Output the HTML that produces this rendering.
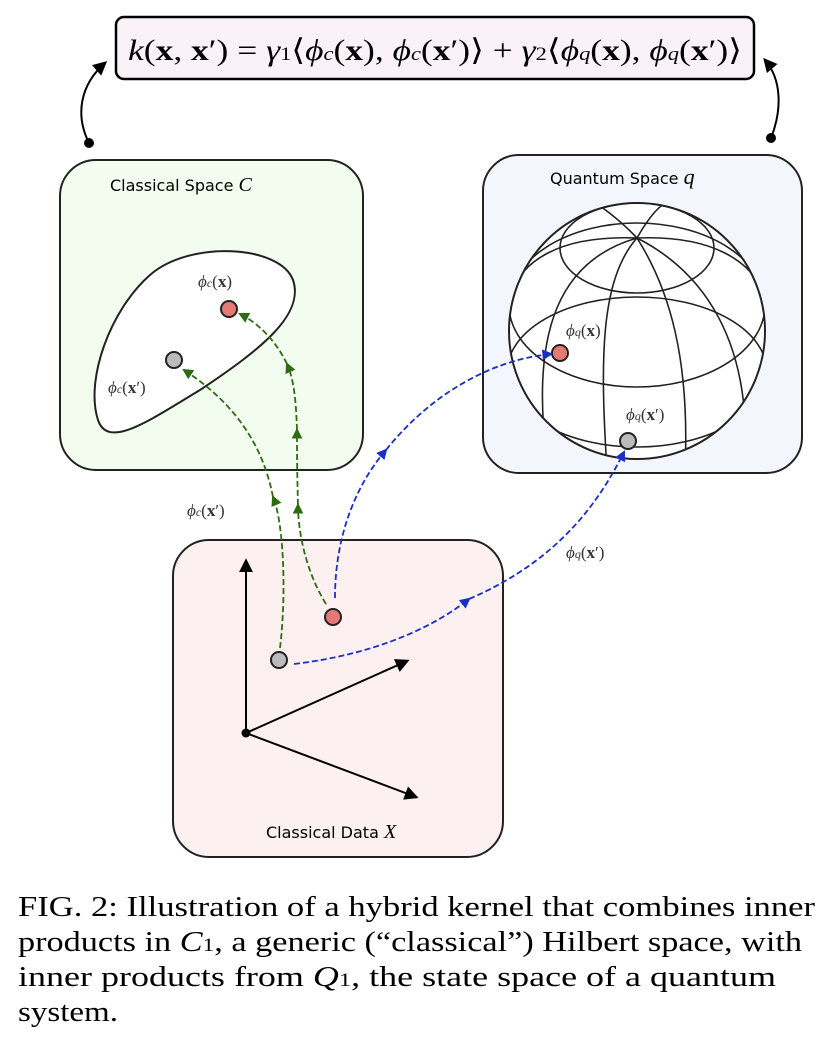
<!DOCTYPE html>
<html><head><style>
html,body{margin:0;padding:0;background:#fff;}
svg{display:block;}
.s{font-family:"DejaVu Sans","Liberation Sans",sans-serif;}
</style></head><body>
<svg width="834" height="1044" viewBox="0 0 834 1044" xmlns="http://www.w3.org/2000/svg">
<defs>
<marker id="ak" viewBox="0 0 10 10" refX="8" refY="5" markerWidth="7" markerHeight="7" orient="auto-start-reverse"><path d="M0,0 L10,5 L0,10 z" fill="#000"/></marker>
<marker id="ag" viewBox="0 0 10 10" refX="8" refY="5" markerWidth="6" markerHeight="6" orient="auto"><path d="M0,0 L10,5 L0,10 z" fill="#2e6b12"/></marker>
<marker id="ab" viewBox="0 0 10 10" refX="8" refY="5" markerWidth="6" markerHeight="6" orient="auto"><path d="M0,0 L10,5 L0,10 z" fill="#1a2fc0"/></marker>
<clipPath id="sph"><circle cx="637" cy="331" r="128"/></clipPath>
</defs>

<!-- formula box -->
<rect x="116" y="17" width="638" height="62" rx="8" fill="#fbf2f7" stroke="#000" stroke-width="2.5"/>
<text x="128" y="60" textLength="614" lengthAdjust="spacingAndGlyphs" font-family="Liberation Serif, serif" font-size="30" font-style="normal"><tspan font-style="italic">k</tspan>(<tspan font-weight="bold">x</tspan>, <tspan font-weight="bold">x</tspan>′) = <tspan font-style="italic">γ</tspan><tspan font-size="19">1</tspan>⟨<tspan font-style="italic">ϕ</tspan><tspan font-style="italic" font-size="19">c</tspan>(<tspan font-weight="bold">x</tspan>), <tspan font-style="italic">ϕ</tspan><tspan font-style="italic" font-size="19">c</tspan>(<tspan font-weight="bold">x</tspan>′)⟩ + <tspan font-style="italic">γ</tspan><tspan font-size="19">2</tspan>⟨<tspan font-style="italic">ϕ</tspan><tspan font-style="italic" font-size="19">q</tspan>(<tspan font-weight="bold">x</tspan>), <tspan font-style="italic">ϕ</tspan><tspan font-style="italic" font-size="19">q</tspan>(<tspan font-weight="bold">x</tspan>′)⟩</text>

<!-- side connectors -->
<circle cx="89" cy="143" r="5" fill="#000"/>
<path d="M89,143 C75,115 80,85 105,63" fill="none" stroke="#000" stroke-width="2" marker-end="url(#ak)"/>
<circle cx="771" cy="138" r="5" fill="#000"/>
<path d="M771,138 C782,110 782,80 765,60" fill="none" stroke="#000" stroke-width="2" marker-end="url(#ak)"/>

<!-- classical space -->
<rect x="60" y="160" width="303" height="310" rx="36" fill="#f2fcef" stroke="#222" stroke-width="2"/>
<text x="110" y="191" class="s" font-size="16">Classical Space <tspan font-family="Liberation Serif, serif" font-style="italic" font-size="20">C</tspan></text>
<path d="M98,420 C85,380 110,310 150,275 C190,240 280,245 293,280 C305,315 260,350 200,390 C150,420 108,450 98,420 Z" fill="#fff" stroke="#222" stroke-width="2"/>
<circle cx="229" cy="309" r="8" fill="#e47a74" stroke="#222" stroke-width="2"/>
<circle cx="174" cy="360" r="8" fill="#bbb" stroke="#222" stroke-width="2"/>

<!-- quantum space -->
<rect x="483" y="155" width="319" height="318" rx="36" fill="#f4f6fd" stroke="#222" stroke-width="2"/>
<text x="550" y="184" class="s" font-size="16">Quantum Space <tspan font-family="Liberation Serif, serif" font-style="italic" font-size="22">q</tspan></text>
<circle cx="637" cy="331" r="128" fill="#fff" stroke="#222" stroke-width="2"/>
<g clip-path="url(#sph)" fill="none" stroke="#222" stroke-width="1.6">
<ellipse cx="637" cy="248" rx="77" ry="45"/>
<ellipse cx="637" cy="305" rx="128" ry="82"/>
<ellipse cx="637" cy="372" rx="130" ry="75"/>
<path d="M637,238 C560,260 530,330 547,460"/>
<path d="M637,238 C600,280 600,360 607,470"/>
<path d="M637,238 C670,290 690,360 685,470"/>
<path d="M637,238 C700,270 740,330 745,420"/>
<path d="M637,238 C560,235 520,260 508,300"/>
<path d="M637,238 C710,235 755,260 765,300"/>
<path d="M637,238 C620,220 600,205 590,200"/>
<path d="M637,238 C650,215 660,205 670,200"/>
</g>
<circle cx="560" cy="353" r="8" fill="#e47a74" stroke="#222" stroke-width="2"/>
<circle cx="628" cy="441" r="8" fill="#bbb" stroke="#222" stroke-width="2"/>

<!-- classical data -->
<rect x="173" y="540" width="330" height="317" rx="36" fill="#fcf0f0" stroke="#222" stroke-width="2"/>
<text x="266" y="838" class="s" font-size="16">Classical Data <tspan font-family="Liberation Serif, serif" font-style="italic" font-size="20">X</tspan></text>
<line x1="246" y1="733" x2="246" y2="561" stroke="#000" stroke-width="2" marker-end="url(#ak)"/>
<line x1="246" y1="733" x2="407" y2="661" stroke="#000" stroke-width="2" marker-end="url(#ak)"/>
<line x1="246" y1="733" x2="416" y2="797" stroke="#000" stroke-width="2" marker-end="url(#ak)"/>
<circle cx="246" cy="733" r="4.5" fill="#000"/>

<!-- dashed connectors -->
<g fill="none" stroke-width="1.8" stroke-dasharray="6,3">
<path d="M280,648 C287,590 283,520 273,497" stroke="#2e6b12" marker-end="url(#ag)"/>
<path d="M273,497 C262,440 230,400 184,370" stroke="#2e6b12" marker-end="url(#ag)"/>
<path d="M326,604 C305,570 298,530 298,505" stroke="#2e6b12" marker-end="url(#ag)"/>
<path d="M298,505 C297,470 297,450 297,430" stroke="#2e6b12" marker-end="url(#ag)"/>
<path d="M297,430 C296,400 294,380 287,364" stroke="#2e6b12" marker-end="url(#ag)"/>
<path d="M287,364 C278,345 262,325 240,314" stroke="#2e6b12" marker-end="url(#ag)"/>
<path d="M335,598 C335,530 360,480 386,450" stroke="#1a2fc0" marker-end="url(#ab)"/>
<path d="M386,450 C430,395 490,360 551,354" stroke="#1a2fc0" marker-end="url(#ab)"/>
<path d="M294,664 C370,655 430,630 469,599" stroke="#1a2fc0" marker-end="url(#ab)"/>
<path d="M469,599 C560,560 600,500 624,452" stroke="#1a2fc0" marker-end="url(#ab)"/>
</g>
<circle cx="333" cy="617" r="8" fill="#e47a74" stroke="#222" stroke-width="2"/>
<circle cx="279" cy="660" r="8" fill="#bbb" stroke="#222" stroke-width="2"/>

<!-- labels -->
<g font-family="Liberation Serif, serif" font-size="17" fill="#333">
<text x="198" y="287"><tspan font-style="italic">ϕ</tspan><tspan font-style="italic" font-size="12">c</tspan>(<tspan font-weight="bold">x</tspan>)</text>
<text x="108" y="393"><tspan font-style="italic">ϕ</tspan><tspan font-style="italic" font-size="12">c</tspan>(<tspan font-weight="bold">x</tspan>′)</text>
<text x="566" y="336"><tspan font-style="italic">ϕ</tspan><tspan font-style="italic" font-size="12">q</tspan>(<tspan font-weight="bold">x</tspan>)</text>
<text x="626" y="420"><tspan font-style="italic">ϕ</tspan><tspan font-style="italic" font-size="12">q</tspan>(<tspan font-weight="bold">x</tspan>′)</text>
<text x="187" y="516"><tspan font-style="italic">ϕ</tspan><tspan font-style="italic" font-size="12">c</tspan>(<tspan font-weight="bold">x</tspan>′)</text>
<text x="566" y="558"><tspan font-style="italic">ϕ</tspan><tspan font-style="italic" font-size="12">q</tspan>(<tspan font-weight="bold">x</tspan>′)</text>
</g>

<!-- caption -->
<g font-family="Liberation Serif, serif" font-size="28" fill="#000">
<text x="18" y="916" textLength="797" lengthAdjust="spacingAndGlyphs">FIG. 2: Illustration of a hybrid kernel that combines inner</text>
<text x="18" y="951" textLength="784" lengthAdjust="spacingAndGlyphs">products in <tspan font-style="italic">C</tspan><tspan font-size="19">1</tspan>, a generic (“classical”) Hilbert space, with</text>
<text x="18" y="986" textLength="758" lengthAdjust="spacingAndGlyphs">inner products from <tspan font-style="italic">Q</tspan><tspan font-size="19">1</tspan>, the state space of a quantum</text>
<text x="18" y="1021" textLength="100" lengthAdjust="spacingAndGlyphs">system.</text>
</g>
</svg>
</body></html>
